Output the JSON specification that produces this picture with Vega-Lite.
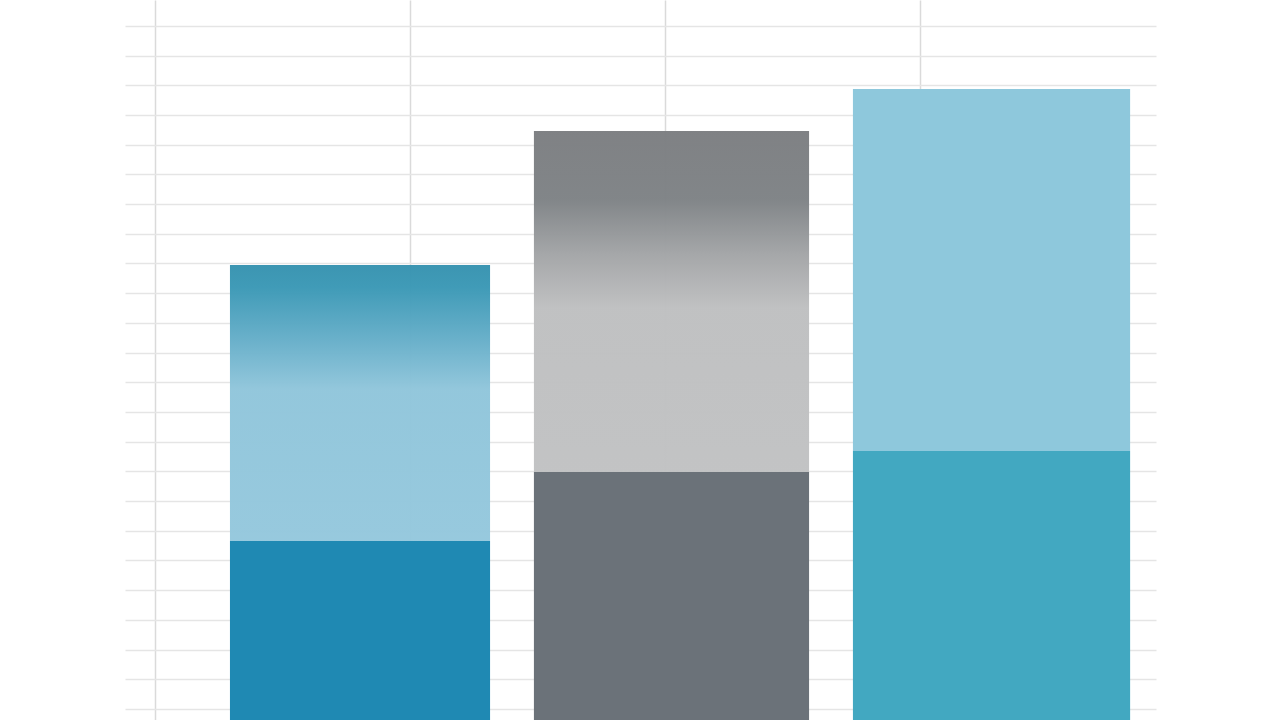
{
  "$schema": "https://vega.github.io/schema/vega-lite/v6.json",
  "width": 1031,
  "height": 720,
  "autosize": {"type": "none"},
  "padding": {"left": 125, "right": 124, "top": 0, "bottom": 0},
  "background": "#ffffff",
  "data": {
    "values": [
      {"bar": "A", "part": "A-low", "x0": 1.294, "x1": 2.314, "lo": 0, "hi": 6.66},
      {"bar": "A", "part": "A-high", "x0": 1.294, "x1": 2.314, "lo": 6.66, "hi": 15.95},
      {"bar": "B", "part": "B-low", "x0": 2.486, "x1": 3.565, "lo": 0, "hi": 8.98},
      {"bar": "B", "part": "B-high", "x0": 2.486, "x1": 3.565, "lo": 8.98, "hi": 20.46},
      {"bar": "C", "part": "C-low", "x0": 3.737, "x1": 4.824, "lo": 0, "hi": 9.69},
      {"bar": "C", "part": "C-high", "x0": 3.737, "x1": 4.824, "lo": 9.69, "hi": 21.87}
    ]
  },
  "encoding": {
    "x": {
      "field": "x0",
      "type": "quantitative",
      "scale": {"domain": [0.8824, 4.9255], "nice": false, "zero": false},
      "axis": {
        "values": [1, 2, 3, 4],
        "labels": false,
        "ticks": false,
        "domain": false,
        "title": null,
        "grid": true,
        "gridColor": "#dadada",
        "gridWidth": 1.5
      }
    },
    "x2": {"field": "x1"},
    "y": {
      "field": "lo",
      "type": "quantitative",
      "scale": {"domain": [0.63, 24.87], "nice": false, "zero": false},
      "axis": {
        "values": [1, 2, 3, 4, 5, 6, 7, 8, 9, 10, 11, 12, 13, 14, 15, 16, 17, 18, 19, 20, 21, 22, 23, 24],
        "labels": false,
        "ticks": false,
        "domain": false,
        "title": null,
        "grid": true,
        "gridColor": "#e5e5e5",
        "gridWidth": 1.5
      }
    },
    "y2": {"field": "hi"}
  },
  "layer": [
    {
      "transform": [{"filter": "datum.part != 'A-high' && datum.part != 'B-high'"}],
      "mark": {"type": "bar", "clip": true},
      "encoding": {
        "color": {
          "field": "part",
          "type": "nominal",
          "legend": null,
          "scale": {
            "domain": ["A-low", "B-low", "C-low", "C-high"],
            "range": ["#1f89b3", "#6b7279", "#42a8c1", "#8ec8dc"]
          }
        }
      }
    },
    {
      "transform": [{"filter": "datum.part == 'A-high'"}],
      "mark": {
        "type": "bar",
        "clip": true,
        "opacity": 0.98,
        "color": {
          "gradient": "linear",
          "x1": 0, "y1": 0, "x2": 0, "y2": 1,
          "stops": [
            {"offset": 0, "color": "#3893b0"},
            {"offset": 0.08, "color": "#3c99b6"},
            {"offset": 0.28, "color": "#69b0ca"},
            {"offset": 0.45, "color": "#91c6db"},
            {"offset": 1, "color": "#95c8dd"}
          ]
        }
      }
    },
    {
      "transform": [{"filter": "datum.part == 'B-high'"}],
      "mark": {
        "type": "bar",
        "clip": true,
        "opacity": 0.98,
        "color": {
          "gradient": "linear",
          "x1": 0, "y1": 0, "x2": 0, "y2": 1,
          "stops": [
            {"offset": 0, "color": "#7d7f82"},
            {"offset": 0.2, "color": "#7f8386"},
            {"offset": 0.36, "color": "#a3a5a7"},
            {"offset": 0.52, "color": "#bfc0c1"},
            {"offset": 1, "color": "#c1c2c3"}
          ]
        }
      }
    }
  ],
  "config": {"view": {"stroke": null}}
}
